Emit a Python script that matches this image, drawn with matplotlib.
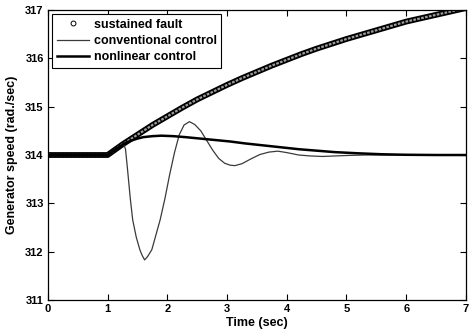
import matplotlib
matplotlib.use("Agg")
import matplotlib.pyplot as plt
from matplotlib.lines import Line2D

plt.rcParams['font.family'] = ['Liberation Sans', 'DejaVu Sans']
plt.rcParams['font.weight'] = 'bold'

# Sustained fault
t_fault = [0.0, 0.5, 1.0, 1.25, 1.5, 1.75, 2.0, 2.25, 2.5, 2.75, 3.0, 3.25, 3.5,
           3.75, 4.0, 4.25, 4.5, 4.75, 5.0, 5.25, 5.5, 5.75, 6.0, 6.25, 6.5, 6.75, 7.0]
v_fault = [314.0, 314.0, 314.0, 314.22, 314.42, 314.62, 314.8, 314.98, 315.15, 315.30,
           315.45, 315.59, 315.72, 315.85, 315.97, 316.09, 316.2, 316.3, 316.4, 316.49,
           316.58, 316.67, 316.76, 316.83, 316.9, 316.97, 317.04]

# Conventional control
t_conv = [0.0, 1.0, 1.1, 1.2, 1.27, 1.3, 1.33, 1.38, 1.42, 1.48, 1.54, 1.58, 1.62,
          1.67, 1.74, 1.81, 1.88, 1.96, 2.04, 2.12, 2.2, 2.28, 2.37, 2.46, 2.56, 2.66,
          2.76, 2.86, 2.96, 3.05, 3.13, 3.25, 3.4, 3.55, 3.7, 3.85, 4.0, 4.2, 4.4, 4.6,
          4.8, 5.0, 5.3, 6.0, 7.0]
v_conv = [314.0, 314.0, 314.09, 314.17, 314.23, 314.12, 313.75, 313.1, 312.66, 312.3,
          312.04, 311.92, 311.83, 311.9, 312.04, 312.35, 312.66, 313.1, 313.6, 314.05,
          314.42, 314.62, 314.69, 314.63, 314.5, 314.3, 314.1, 313.93, 313.83, 313.79,
          313.78, 313.82, 313.92, 314.01, 314.06, 314.08, 314.05, 314.0, 313.98, 313.97,
          313.98, 313.99, 314.0, 314.0, 314.0]

# Nonlinear control
t_nl = [0.0, 1.0, 1.1, 1.2, 1.3, 1.4, 1.5, 1.6, 1.75, 1.9, 2.1, 2.3, 2.55, 2.8, 3.05,
        3.3, 3.6, 3.9, 4.2, 4.5, 4.8, 5.2, 5.6, 6.0, 6.5, 7.0]
v_nl = [314.0, 314.0, 314.09, 314.17, 314.25, 314.3, 314.34, 314.37, 314.39, 314.4,
        314.39, 314.37, 314.34, 314.31, 314.28, 314.24, 314.2, 314.16, 314.12, 314.09,
        314.06, 314.035, 314.015, 314.005, 314.0, 314.0]

fig = plt.figure(figsize=(4.74, 3.33), dpi=100)
ax = fig.add_axes([0.101, 0.099, 0.882, 0.871])

# fault: chain of small open circles (rendered as a hollow tube)
ax.plot(t_fault, v_fault, color='black', lw=4.2, solid_capstyle='butt', zorder=2)
ax.plot(t_fault, v_fault, color='#9c9c9c', lw=1.6, ls=(0, (1.2, 0.6)),
        solid_capstyle='butt', zorder=2.1)
ax.plot(t_conv, v_conv, color='#3a3a3a', lw=0.9, zorder=3)
ax.plot(t_nl, v_nl, color='black', lw=1.8, zorder=4)

ax.set_xlim(0, 7)
ax.set_ylim(311, 317)
ax.set_xticks(range(0, 8))
ax.set_yticks(range(311, 318))
ax.tick_params(direction='in', top=True, right=True, length=4, width=0.8,
               labelsize=8, pad=3)
for lab in ax.get_xticklabels() + ax.get_yticklabels():
    lab.set_fontweight('bold')
for s in ax.spines.values():
    s.set_linewidth(0.9)

ax.set_xlabel('Time (sec)', fontsize=9, fontweight='bold', labelpad=2)
ax.set_ylabel('Generator speed (rad./sec)', fontsize=9, fontweight='bold', labelpad=5)

handles = [
    Line2D([], [], ls='none', marker='o', markersize=3.5, markerfacecolor='white',
           markeredgecolor='black', markeredgewidth=0.7),
    Line2D([], [], color='#3a3a3a', lw=0.9),
    Line2D([], [], color='black', lw=1.8),
]
leg = ax.legend(handles, ['sustained fault', 'conventional control', 'nonlinear control'],
                loc='upper left', frameon=True, fancybox=False,
                edgecolor='black', framealpha=1, borderaxespad=0.35,
                handlelength=2.6, handletextpad=0.4, labelspacing=0.35,
                borderpad=0.35, prop={'weight': 'bold', 'size': 9})
leg.get_frame().set_linewidth(0.8)

fig.savefig('out.png', dpi=100)
